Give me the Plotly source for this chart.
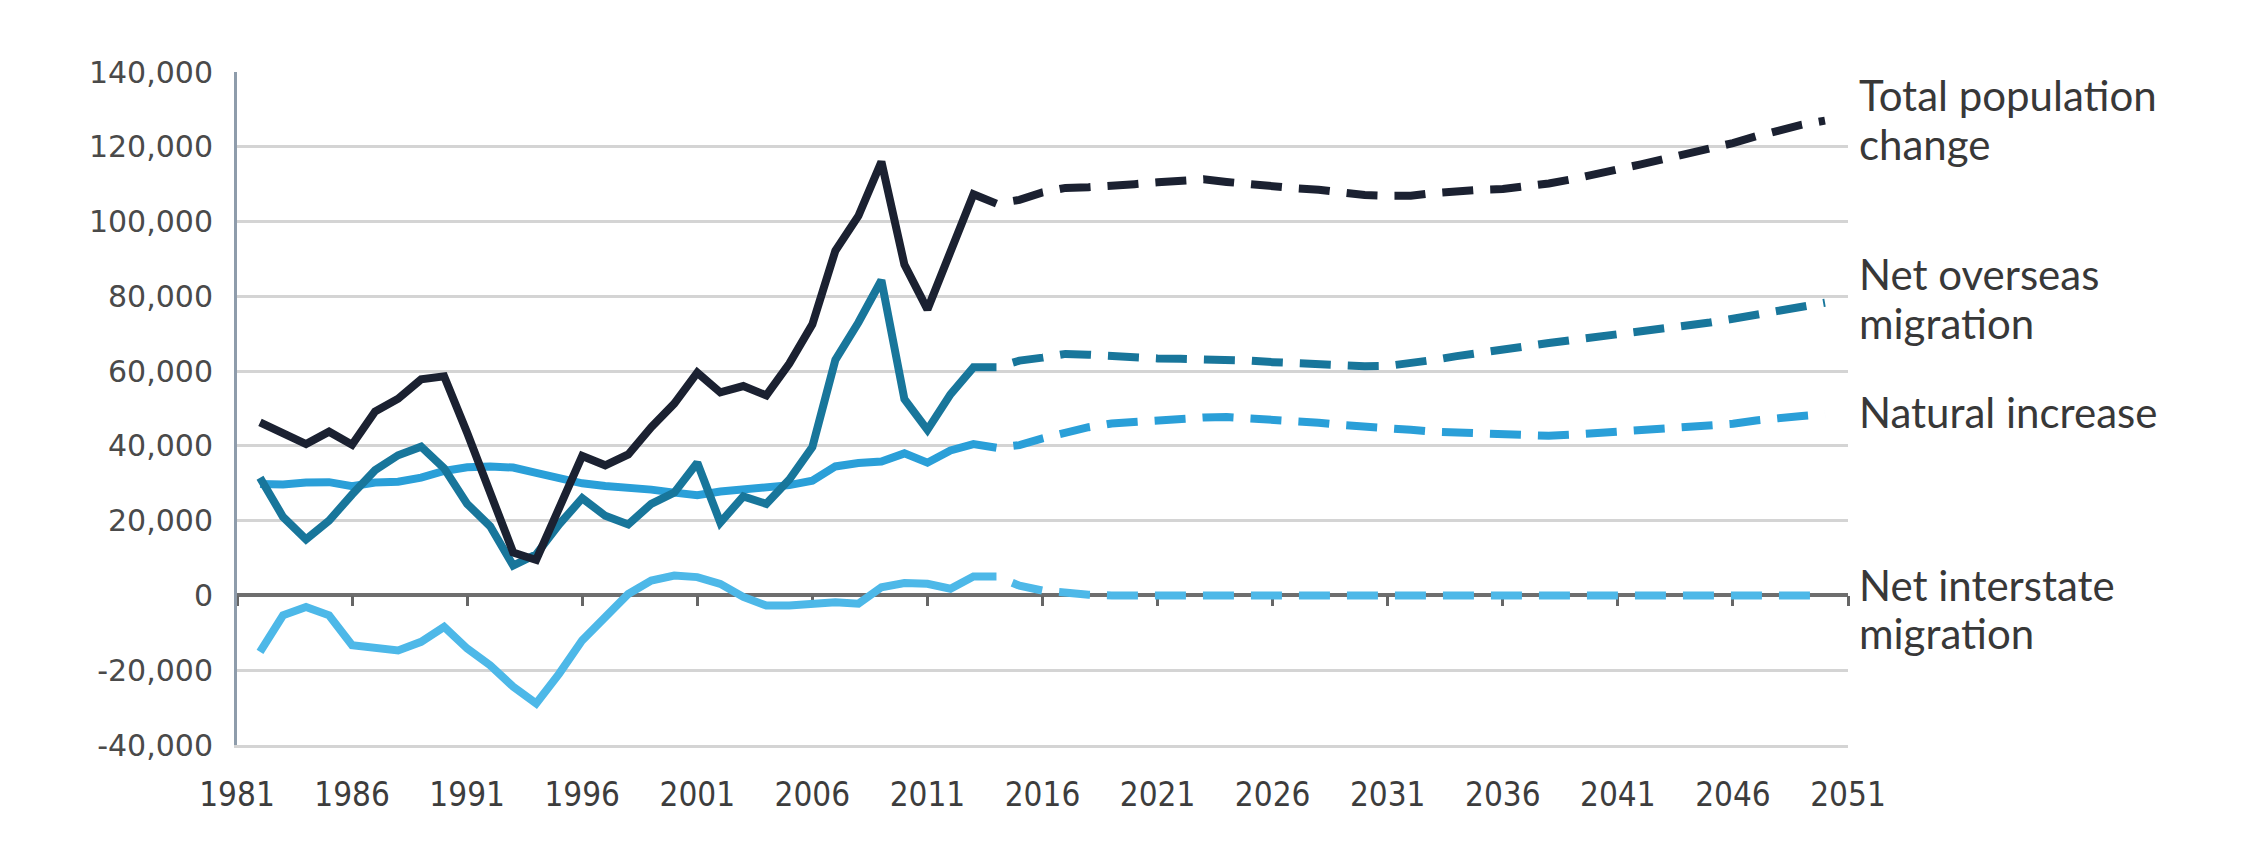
import plotly.graph_objects as go

# ---------------- data ----------------
years_hist = list(range(1982, 2015))          # 1982 .. 2014 (observed)
years_proj = list(range(2014, 2051))          # 2014 .. 2050 (projected)

total_hist = [46300, 43200, 40500, 43800, 40300, 49200, 52600, 57800, 58600, 43500,
              28000, 11500, 9500, 23500, 37300, 34800, 37700, 45000, 51300, 59600,
              54300, 56000, 53500, 62000, 72500, 92200, 101500, 116000, 88500, 76500,
              92500, 107300, 104800]
nom_hist = [31500, 21000, 15000, 20000, 27000, 33500, 37500, 39800, 34000, 24500,
            18500, 8000, 11000, 19000, 26000, 21300, 19000, 24500, 27500, 35500,
            19500, 26500, 24500, 31000, 39700, 63000, 73000, 84300, 52500, 44300,
            53800, 61000, 61000]
ni_hist = [29800, 29700, 30200, 30300, 29200, 30200, 30400, 31500, 33300, 34300,
           34500, 34200, 32800, 31200, 30000, 29300, 28900, 28300, 27500, 26800,
           27800, 28300, 28600, 29500, 30700, 34500, 35400, 35800, 38000, 35500,
           38800, 40500, 39500]
nim_hist = [-15100, -5300, -3100, -5300, -13300, -13800, -14700, -12400, -8400, -14200,
            -18700, -24400, -28900, -20900, -12000, -5800, 400, 4000, 5300, 4900,
            3100, -400, -2700, -2700, -2000, -1800, -2200, 2200, 3300, 3100,
            1800, 5100, 5100]

total_proj = [104800, 105800, 107800, 109000, 109200, 109400, 110000, 110500, 111000, 111300,
              110600, 109900, 109300, 108900, 108500, 107600, 107100, 106900, 106900, 107600,
              108200, 108500, 108700, 109300, 110200, 111300, 112500, 114000, 115300, 116700,
              118000, 119500, 121000, 122800, 124400, 125900, 127000]
nom_proj = [61000, 62800, 63600, 64600, 64400, 63900, 63600, 63400, 63300, 63300,
            63100, 62800, 62400, 62100, 61800, 61400, 61300, 61400, 62000, 63000,
            64000, 65000, 66000, 66800, 67500, 68300, 69000, 69900, 70800, 71500,
            72300, 73000, 74000, 75200, 76400, 77400, 78300]
ni_proj = [39500, 40200, 42000, 43600, 45000, 46000, 46500, 46700, 47000, 47600,
           47700, 47400, 47000, 46600, 46200, 45600, 45000, 44500, 44300, 43800,
           43500, 43100, 42800, 42700, 42700, 43000, 43400, 43500, 43800, 44400,
           45000, 45400, 45900, 46800, 47600, 48000, 48500]
nim_proj = [5100, 2600, 1300, 500, 200, 0, 0, 0, 0, 0,
            0, 0, 0, 0, 0, 0, 0, 0, 0, 0,
            0, 0, 0, 0, 0, 0, 0, 0, 0, 0,
            0, 0, 0, 0, 0, 0, 0]

series_names = ["Total population change", "Net overseas migration",
                "Natural increase", "Net interstate migration"]
series_colors = ["#1b2131", "#18769b", "#2a9fd8", "#4db8e8"]

x_tickvals = list(range(1981, 2052, 5))
x_ticktext = [str(v) for v in x_tickvals]
y_tickvals = [-40000, -20000, 0, 20000, 40000, 60000, 80000, 100000, 120000, 140000]
y_ticktext = ["-40,000", "-20,000", "0", "20,000", "40,000", "60,000",
              "80,000", "100,000", "120,000", "140,000"]

# label lines (text, y value at the line's centre)
label_lines = [("Total population", 133800), ("change", 120700),
               ("Net overseas", 86100), ("migration", 73000),
               ("Natural increase", 49000),
               ("Net interstate", 2700), ("migration", -10000)]

# ---------------- figure ----------------
fig = go.Figure()

hist = [total_hist, nom_hist, ni_hist, nim_hist]
proj = [total_proj, nom_proj, ni_proj, nim_proj]

# draw lighter lines first so the darker ones sit on top, like the original
order = [3, 2, 1, 0]
for i in order:
    fig.add_trace(go.Scatter(
        x=years_hist, y=hist[i], mode="lines", name=series_names[i],
        line=dict(color=series_colors[i], width=8), showlegend=False,
        hoverinfo="x+y"))
    fig.add_trace(go.Scatter(
        x=years_proj, y=proj[i], mode="lines", name=series_names[i] + " (projected)",
        line=dict(color=series_colors[i], width=8, dash="0px,17px,31px,0px"),
        showlegend=False, hoverinfo="x+y"))

# helper (empty) trace so the zero-line tick axis is rendered
fig.add_trace(go.Scatter(x=[years_hist[0]], y=[None], xaxis="x2", yaxis="y",
                         mode="lines", showlegend=False, hoverinfo="skip"))

for text, yv in label_lines:
    fig.add_annotation(
        x=1.0, xref="paper", y=yv, yref="y", xanchor="left", yanchor="middle",
        xshift=9, text=text, showarrow=False,
        font=dict(family="Lato, 'Open Sans', sans-serif", size=42, color="#383838"))

fig.update_layout(
    width=2248, height=860,
    margin=dict(l=237, r=400, t=72, b=115),
    paper_bgcolor="white", plot_bgcolor="white",
    showlegend=False,
    xaxis=dict(
        range=[1981, 2051], tickmode="array", tickvals=x_tickvals, ticktext=x_ticktext,
        showgrid=False, zeroline=False, ticks="",
        showline=True, linecolor="#d4d4d4", linewidth=3,
        tickfont=dict(family="'Liberation Sans Narrow', 'DejaVu Sans Condensed', sans-serif",
                      size=33, color="#3d3d3d"),
        ticklabelstandoff=18,
    ),
    xaxis2=dict(
        range=[1981, 2051], overlaying="x", anchor="free", position=40000 / 180000,
        side="bottom", tickmode="array", tickvals=x_tickvals,
        ticks="outside", ticklen=10, tickwidth=3, tickcolor="#666666",
        showticklabels=False, showgrid=False, zeroline=False, showline=False,
        layer="below traces",
    ),
    yaxis=dict(
        range=[-40000, 140000], tickmode="array", tickvals=y_tickvals, ticktext=y_ticktext,
        showgrid=True, gridcolor="#d4d4d4", gridwidth=3,
        zeroline=True, zerolinecolor="#6e6e6e", zerolinewidth=4,
        showline=True, linecolor="#8e9cab", linewidth=3, ticks="",
        tickfont=dict(family="'DejaVu Sans', Verdana, sans-serif", size=30, color="#4a4a4a"),
        ticklabelstandoff=15,
    ),
)

fig.write_html("out.html")
